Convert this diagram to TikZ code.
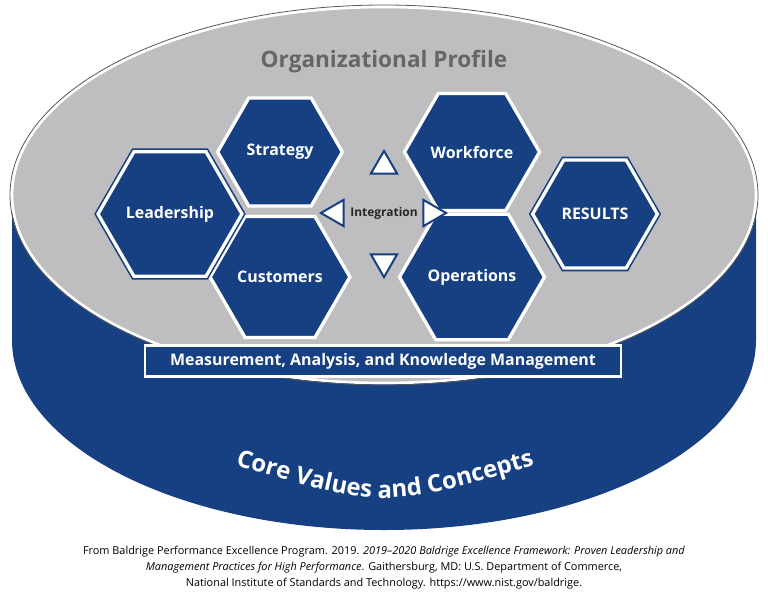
\documentclass[tikz,border=0pt]{standalone}
\usepackage{fontspec}
\setmainfont{Open Sans}
\usetikzlibrary{shapes.geometric,decorations.text}
\definecolor{bblue}{RGB}{22,64,130}
\definecolor{cgray}{RGB}{190,190,192}
\begin{document}
\begin{tikzpicture}[x=0.02646cm,y=-0.02646cm,
 hex/.style={regular polygon,regular polygon sides=6,minimum size=3.3cm,inner sep=0pt,fill=bblue,draw=white,line width=2.5pt,text=white,font=\fontsize{12}{14}\selectfont\bfseries},
 hexw/.style={hex,draw=bblue,double=white,double distance=2.5pt,line width=1.2pt},
 tri/.style={isosceles triangle,isosceles triangle apex angle=60,minimum size=0.6cm,inner sep=0pt,fill=white,draw=bblue,line width=1.5pt}]
\path[use as bounding box,fill=white] (0,0) rectangle (768,597);
% cylinder
\fill[bblue] (12,195) -- (12,340) arc[start angle=180,end angle=0,x radius=372,y radius=190] -- (756,195) -- cycle;
\fill[cgray,draw=white,line width=2pt] (384,195) ellipse[x radius=372,y radius=188];
\draw[gray!70!black,line width=0.6pt] (384,195) ellipse[x radius=374,y radius=190];
\node[text=gray!80!black,font=\fontsize{17}{20}\selectfont\bfseries] (op) at (384,62) {Organizational Profile};
\node[hex] (str) at (280,152) {Strategy};
\node[hex] (wf) at (472,152) {Workforce};
\node[hex] (cus) at (280,277) {Customers};
\node[hex] (ops) at (472,277) {Operations};
\node[hexw] (lead) at (170,214) {Leadership};
\node[hexw] (res) at (595,214) {RESULTS};
\node[tri,shape border rotate=90] (tu) at (384,166) {};
\node[tri,shape border rotate=-90] (td) at (384,262) {};
\node[tri,shape border rotate=180] (tl) at (336,213) {};
\node[tri,shape border rotate=0] (tr) at (431,213) {};
\node[font=\fontsize{9}{11}\selectfont\bfseries,text=black!85] (int) at (384,213) {Integration};
\node[fill=bblue,draw=white,line width=2pt,minimum width=12.6cm,minimum height=0.82cm,text=white,font=\fontsize{12}{14}\selectfont\bfseries] (mak) at (383,361) {Measurement, Analysis, and Knowledge Management};
\path[decorate,decoration={text along path,text align=center,text={|\color{white}\fontsize{18}{20}\selectfont\bfseries|Core Values and Concepts}}] (225,462) .. controls (384,510) .. (545,462);
\node[align=center,font=\fontsize{8.2}{12}\selectfont] (foot) at (384,568) {From Baldrige Performance Excellence Program. 2019. \textit{2019--2020 Baldrige Excellence Framework: Proven Leadership and}\\ \textit{Management Practices for High Performance}. Gaithersburg, MD: U.S. Department of Commerce,\\ National Institute of Standards and Technology. https://www.nist.gov/baldrige.};
\end{tikzpicture}
\end{document}
